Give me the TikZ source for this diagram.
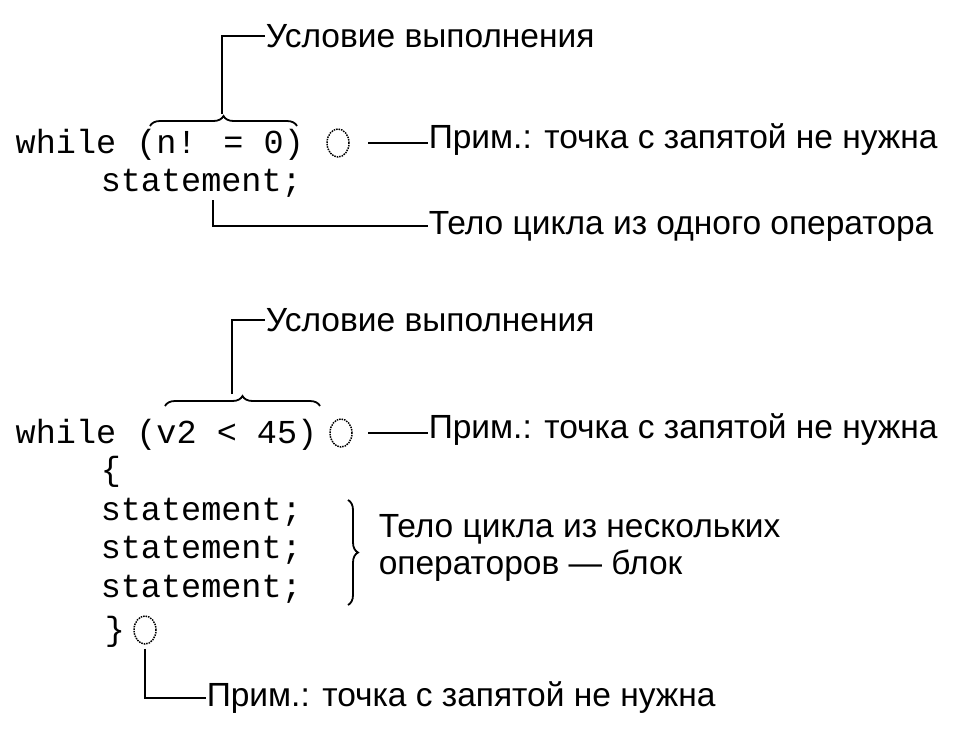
\documentclass[tikz,border=0pt]{standalone}
\usepackage{fontspec}
\setmainfont{Liberation Sans}
\newfontfamily\codefont{Liberation Mono}
\usetikzlibrary{decorations.pathreplacing,shapes.geometric}

\begin{document}
\begin{tikzpicture}[x=1pt,y=-1pt,line width=1.5pt,
code/.style = {anchor=west, inner sep=0pt, font=\codefont\fontsize{33.5}{33.5}\selectfont},
note/.style = {anchor=west, inner sep=0pt, font=\fontsize{33.5}{33.5}\selectfont},
semi/.style = {ellipse, draw, densely dotted, line width=1.5pt, minimum width=22pt, minimum height=28pt, inner sep=0pt},
bracey/.style = {decorate, decoration={brace, amplitude=10pt}, line width=1.8pt}]
\useasboundingbox (0,0) rectangle (960,728);

% first loop
\node[code] (w1) at (15,145) {while (n! = 0)};
\node[code] (s1) at (100,183) {statement;};
\node[semi] (c1) at (338,143) {};
\node[note] (u1) at (265,36) {Условие выполнения};
\node[note] (p1) at (428,140) {Прим.: точка с запятой не нужна};
\node[note] (t1) at (428,226) {Тело цикла из одного оператора};
\coordinate (b1) at (222,114);
\draw[bracey] (150,126) -- (297,126);
\draw (b1) |- (u1.west);
\draw (368,143) -- (428,143);
\draw (213,200) |- (t1.west);

% second loop
\node[code] (w2) at (15,435) {while (v2 < 45)};
\node[code] (o2) at (100,472) {\{};
\node[code] (s2) at (100,512) {statement;};
\node[code] (s3) at (100,550) {statement;};
\node[code] (s4) at (100,589) {statement;};
\node[code] (e2) at (104,632) {\}};
\node[semi] (c2) at (341,433) {};
\node[semi] (c3) at (145,630) {};
\node[note] (u2) at (265,320) {Условие выполнения};
\node[note] (p2) at (428,430) {Прим.: точка с запятой не нужна};
\node[note, align=left] (t2) at (378,548) {Тело цикла из нескольких\\[4pt]операторов — блок};
\node[note] (p3) at (206,698) {Прим.: точка с запятой не нужна};
\coordinate (b2) at (232,394);
\draw[bracey] (165,406) -- (320,406);
\draw (b2) |- (u2.west);
\draw (368,433) -- (428,433);
\draw[bracey] (348,500) -- (348,605);
\draw (c3.south) ++(0,4) |- (p3.west);
\end{tikzpicture}
\end{document}
